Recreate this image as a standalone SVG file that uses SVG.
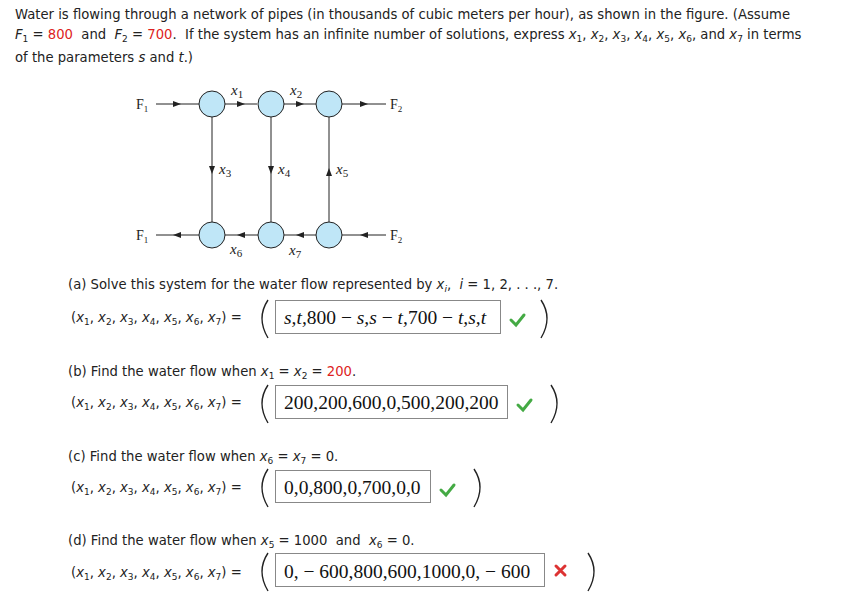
<svg xmlns="http://www.w3.org/2000/svg" width="845" height="616" viewBox="0 0 845 616">
<style>
.t{font-family:"DejaVu Sans",Verdana,sans-serif;font-size:13.2px;fill:#222}
.r{fill:#d22}
.m{font-family:"Liberation Serif",serif;font-style:italic;font-size:15px;fill:#222}
.f{font-family:"Liberation Serif",serif;font-size:14px;fill:#222}
.n{fill:#bfe6f7;stroke:#222;stroke-width:1}
.e{stroke:#222;stroke-width:1;fill:none;marker-mid:url(#a)}
.b{fill:#fff;stroke:#888;stroke-width:1}
.ans{font-family:"Liberation Serif",serif;font-size:19.5px;fill:#111}
.p{stroke:#222;stroke-width:1.4;fill:none}
.ck{stroke:#4a4;stroke-width:3;fill:none;stroke-linecap:round}
.x{stroke:#d33;stroke-width:3;stroke-linecap:round}
</style>
<defs><marker id="a" markerWidth="8" markerHeight="6" refX="4" refY="3" orient="auto" markerUnits="userSpaceOnUse"><path d="M0,0L8,3L0,6z" fill="#222"/></marker></defs>
<rect width="845" height="616" fill="#fff"/>
<text class="t" x="15" y="19" textLength="775">Water is flowing through a network of pipes (in thousands of cubic meters per hour), as shown in the figure. (Assume</text>
<text class="t" x="15" y="39"><tspan font-style="italic">F</tspan><tspan font-size="9" dy="3">1</tspan><tspan dy="-3"> = </tspan><tspan class="r">800</tspan>&#160; and &#160;<tspan font-style="italic">F</tspan><tspan font-size="9" dy="3">2</tspan><tspan dy="-3"> = </tspan><tspan class="r">700</tspan>.&#160; If the system has an infinite number of solutions, express <tspan font-style="italic">x</tspan><tspan font-size="9" dy="3">1</tspan><tspan dy="-3">, </tspan><tspan font-style="italic">x</tspan><tspan font-size="9" dy="3">2</tspan><tspan dy="-3">, </tspan><tspan font-style="italic">x</tspan><tspan font-size="9" dy="3">3</tspan><tspan dy="-3">, </tspan><tspan font-style="italic">x</tspan><tspan font-size="9" dy="3">4</tspan><tspan dy="-3">, </tspan><tspan font-style="italic">x</tspan><tspan font-size="9" dy="3">5</tspan><tspan dy="-3">, </tspan><tspan font-style="italic">x</tspan><tspan font-size="9" dy="3">6</tspan><tspan dy="-3">, and </tspan><tspan font-style="italic">x</tspan><tspan font-size="9" dy="3">7</tspan><tspan dy="-3"> in terms</tspan></text>
<text class="t" x="15" y="62">of the parameters <tspan font-style="italic">s</tspan> and <tspan font-style="italic">t</tspan>.)</text>
<g id="connectors">
<path class="e" d="M156,104L177,104L199,104"/>
<path class="e" d="M225,104L241,104L257,104"/>
<path class="e" d="M283,104L300,104L317,104"/>
<path class="e" d="M342,104L364,104L386,104"/>
<path class="e" d="M212,117L212,170L212,222"/>
<path class="e" d="M271,117L271,170L271,222"/>
<path class="e" d="M329,222L329,172L329,117"/>
<path class="e" d="M386,235L364,235L342,235"/>
<path class="e" d="M316,235L300,235L284,235"/>
<path class="e" d="M258,235L241,235L225,235"/>
<path class="e" d="M199,235L177,235L156,235"/>
</g>
<g id="n1"><circle class="n" cx="212" cy="104" r="13"/></g>
<g id="n2"><circle class="n" cx="271" cy="104" r="13"/></g>
<g id="n3"><circle class="n" cx="329" cy="104" r="13"/></g>
<g id="n4"><circle class="n" cx="212" cy="235" r="13"/></g>
<g id="n5"><circle class="n" cx="271" cy="235" r="13"/></g>
<g id="n6"><circle class="n" cx="329" cy="235" r="13"/></g>
<g id="labels">
<text class="f" x="136" y="109">F<tspan font-size="9" dy="3">1</tspan></text>
<text class="f" x="390" y="109">F<tspan font-size="9" dy="3">2</tspan></text>
<text class="f" x="136" y="240">F<tspan font-size="9" dy="3">1</tspan></text>
<text class="f" x="390" y="240">F<tspan font-size="9" dy="3">2</tspan></text>
<text class="m" x="231" y="95">x<tspan font-size="11" font-style="normal" dy="3">1</tspan></text>
<text class="m" x="290" y="95">x<tspan font-size="11" font-style="normal" dy="3">2</tspan></text>
<text class="m" x="219" y="174">x<tspan font-size="11" font-style="normal" dy="3">3</tspan></text>
<text class="m" x="278" y="174">x<tspan font-size="11" font-style="normal" dy="3">4</tspan></text>
<text class="m" x="336" y="174">x<tspan font-size="11" font-style="normal" dy="3">5</tspan></text>
<text class="m" x="230" y="254">x<tspan font-size="11" font-style="normal" dy="3">6</tspan></text>
<text class="m" x="289" y="255">x<tspan font-size="11" font-style="normal" dy="3">7</tspan></text>
</g>
<text class="t" x="68" y="289">(a) Solve this system for the water flow represented by <tspan font-style="italic">x</tspan><tspan font-size="9" dy="3" font-style="italic">i</tspan><tspan dy="-3">,&#160; </tspan><tspan font-style="italic">i</tspan> = 1, 2, . . ., 7.</text>
<g id="rowa">
<text class="t" x="71" y="322">(<tspan font-style="italic">x</tspan><tspan font-size="9" dy="3">1</tspan><tspan dy="-3">, </tspan><tspan font-style="italic">x</tspan><tspan font-size="9" dy="3">2</tspan><tspan dy="-3">, </tspan><tspan font-style="italic">x</tspan><tspan font-size="9" dy="3">3</tspan><tspan dy="-3">, </tspan><tspan font-style="italic">x</tspan><tspan font-size="9" dy="3">4</tspan><tspan dy="-3">, </tspan><tspan font-style="italic">x</tspan><tspan font-size="9" dy="3">5</tspan><tspan dy="-3">, </tspan><tspan font-style="italic">x</tspan><tspan font-size="9" dy="3">6</tspan><tspan dy="-3">, </tspan><tspan font-style="italic">x</tspan><tspan font-size="9" dy="3">7</tspan><tspan dy="-3">) =</tspan></text>
<path class="p" d="M268,300Q256,318 268,338"/>
<rect class="b" x="275.5" y="300.5" width="225" height="33"/>
<text class="ans" x="284" y="324" font-style="italic">s,t,<tspan font-style="normal">800 − </tspan>s,s<tspan font-style="normal"> − </tspan>t,<tspan font-style="normal">700 − </tspan>t,s,t</text>
<path class="ck" d="M511,320L516,325L524,315"/>
<path class="p" d="M541,300Q553,318 541,338"/>
</g>
<text class="t" x="68" y="376">(b) Find the water flow when <tspan font-style="italic">x</tspan><tspan font-size="9" dy="3">1</tspan><tspan dy="-3"> = </tspan><tspan font-style="italic">x</tspan><tspan font-size="9" dy="3">2</tspan><tspan dy="-3"> = </tspan><tspan class="r">200</tspan>.</text>
<g id="rowb">
<text class="t" x="71" y="407">(<tspan font-style="italic">x</tspan><tspan font-size="9" dy="3">1</tspan><tspan dy="-3">, </tspan><tspan font-style="italic">x</tspan><tspan font-size="9" dy="3">2</tspan><tspan dy="-3">, </tspan><tspan font-style="italic">x</tspan><tspan font-size="9" dy="3">3</tspan><tspan dy="-3">, </tspan><tspan font-style="italic">x</tspan><tspan font-size="9" dy="3">4</tspan><tspan dy="-3">, </tspan><tspan font-style="italic">x</tspan><tspan font-size="9" dy="3">5</tspan><tspan dy="-3">, </tspan><tspan font-style="italic">x</tspan><tspan font-size="9" dy="3">6</tspan><tspan dy="-3">, </tspan><tspan font-style="italic">x</tspan><tspan font-size="9" dy="3">7</tspan><tspan dy="-3">) =</tspan></text>
<path class="p" d="M268,385Q256,403 268,423"/>
<rect class="b" x="275.5" y="385.5" width="232" height="33"/>
<text class="ans" x="284" y="409">200,200,600,0,500,200,200</text>
<path class="ck" d="M518,405L523,410L531,400"/>
<path class="p" d="M551,385Q563,403 551,423"/>
</g>
<text class="t" x="68" y="461">(c) Find the water flow when <tspan font-style="italic">x</tspan><tspan font-size="9" dy="3">6</tspan><tspan dy="-3"> = </tspan><tspan font-style="italic">x</tspan><tspan font-size="9" dy="3">7</tspan><tspan dy="-3"> = 0.</tspan></text>
<g id="rowc">
<text class="t" x="71" y="492">(<tspan font-style="italic">x</tspan><tspan font-size="9" dy="3">1</tspan><tspan dy="-3">, </tspan><tspan font-style="italic">x</tspan><tspan font-size="9" dy="3">2</tspan><tspan dy="-3">, </tspan><tspan font-style="italic">x</tspan><tspan font-size="9" dy="3">3</tspan><tspan dy="-3">, </tspan><tspan font-style="italic">x</tspan><tspan font-size="9" dy="3">4</tspan><tspan dy="-3">, </tspan><tspan font-style="italic">x</tspan><tspan font-size="9" dy="3">5</tspan><tspan dy="-3">, </tspan><tspan font-style="italic">x</tspan><tspan font-size="9" dy="3">6</tspan><tspan dy="-3">, </tspan><tspan font-style="italic">x</tspan><tspan font-size="9" dy="3">7</tspan><tspan dy="-3">) =</tspan></text>
<path class="p" d="M268,469Q256,487 268,507"/>
<rect class="b" x="275.5" y="470.5" width="155" height="32"/>
<text class="ans" x="284" y="494">0,0,800,0,700,0,0</text>
<path class="ck" d="M441,490L446,495L454,485"/>
<path class="p" d="M474,469Q486,487 474,507"/>
</g>
<text class="t" x="68" y="545">(d) Find the water flow when <tspan font-style="italic">x</tspan><tspan font-size="9" dy="3">5</tspan><tspan dy="-3"> = 1000&#160; and &#160;</tspan><tspan font-style="italic">x</tspan><tspan font-size="9" dy="3">6</tspan><tspan dy="-3"> = 0.</tspan></text>
<g id="rowd">
<text class="t" x="71" y="577">(<tspan font-style="italic">x</tspan><tspan font-size="9" dy="3">1</tspan><tspan dy="-3">, </tspan><tspan font-style="italic">x</tspan><tspan font-size="9" dy="3">2</tspan><tspan dy="-3">, </tspan><tspan font-style="italic">x</tspan><tspan font-size="9" dy="3">3</tspan><tspan dy="-3">, </tspan><tspan font-style="italic">x</tspan><tspan font-size="9" dy="3">4</tspan><tspan dy="-3">, </tspan><tspan font-style="italic">x</tspan><tspan font-size="9" dy="3">5</tspan><tspan dy="-3">, </tspan><tspan font-style="italic">x</tspan><tspan font-size="9" dy="3">6</tspan><tspan dy="-3">, </tspan><tspan font-style="italic">x</tspan><tspan font-size="9" dy="3">7</tspan><tspan dy="-3">) =</tspan></text>
<path class="p" d="M268,553Q256,571 268,591"/>
<rect class="b" x="275.5" y="553.5" width="269" height="33"/>
<text class="ans" x="284" y="578">0, − 600,800,600,1000,0, − 600</text>
<path class="x" d="M556,566L565,575M565,566L556,575"/>
<path class="p" d="M588,553Q600,571 588,591"/>
</g>
</svg>
